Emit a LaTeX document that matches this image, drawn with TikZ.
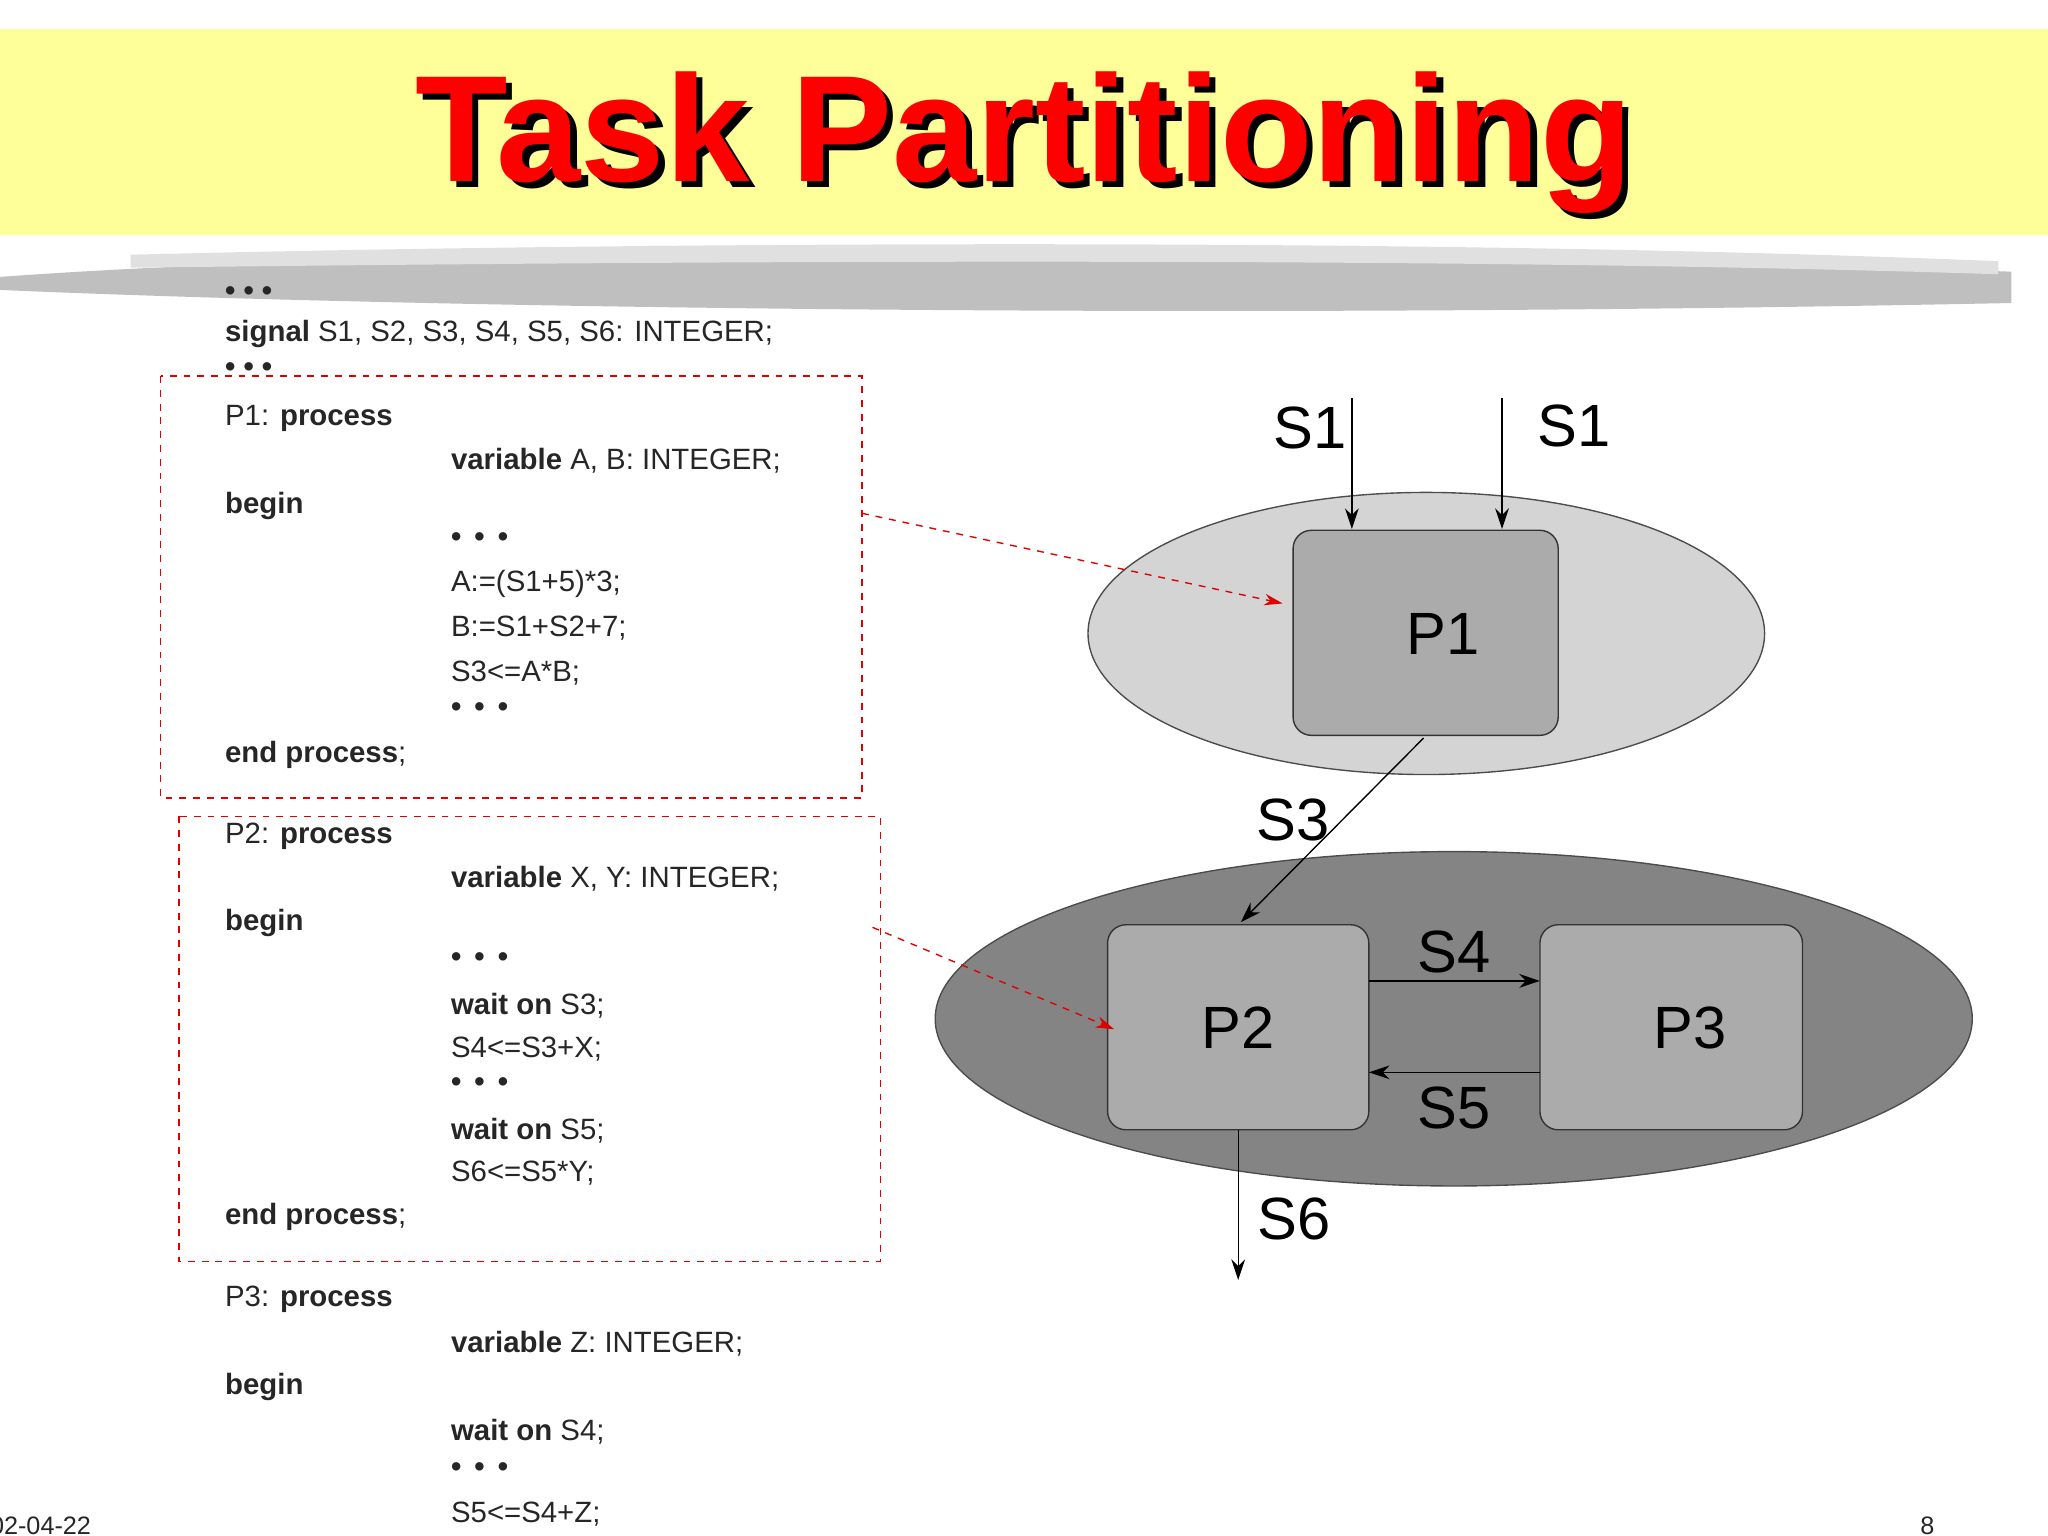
\documentclass[tikz,border=0pt]{standalone}
\usepackage{fontspec}
\setmainfont{Liberation Sans}
\usetikzlibrary{arrows.meta}
\definecolor{banner}{HTML}{FFFF99}
\definecolor{ell1}{HTML}{D4D4D4}
\definecolor{ell2}{HTML}{848484}
\definecolor{pbox}{HTML}{ABABAB}
\definecolor{dred}{HTML}{E00000}
\begin{document}
\begin{tikzpicture}[x=0.02cm,y=-0.02cm,
  code/.style={anchor=west,inner sep=0pt,font=\fontsize{12.8}{14}\selectfont,text=black!85},
  proc/.style={draw=black!80,rounded corners=8pt,fill=pbox,line width=0.6pt},
  big/.style={font=\fontsize{26}{30}\selectfont},
  sig/.style={-{Stealth[length=9pt,width=6pt]},line width=0.6pt},
  red/.style={draw=dred,dashed,line width=0.6pt},
  redarr/.style={red,-{Stealth[length=8pt,width=5pt]},dred}]
\useasboundingbox (0,0) rectangle (1568,1176);
\fill[banner] (0,22) rectangle (1568,180);
\node[font=\fontsize{66}{70}\selectfont\bfseries,text=black] at (789,114) {Task Partitioning};
\node (title) [font=\fontsize{66}{70}\selectfont\bfseries,text=red] at (784,109) {Task Partitioning};
\fill[black!25] (0,212) .. controls (300,190) and (900,185) .. (1540,208) -- (1540,232) .. controls (900,245) and (300,235) .. (0,222) -- cycle;
\fill[black!12] (100,195) .. controls (500,185) and (1100,182) .. (1530,200) -- (1530,210) .. controls (1100,196) and (500,200) .. (100,205) -- cycle;
% code
\node[code] at (172,225) {\textbf{• • •}};
\node[code] (sig) at (172,256) {\textbf{signal} S1, S2, S3, S4, S5, S6: INTEGER;};
\node[code] at (172,283) {\textbf{• • •}};
\node[code] at (172,320) {P1: \textbf{process}};
\node[code] at (345,353) {\textbf{variable} A, B: INTEGER;};
\node[code] at (172,387) {\textbf{begin}};
\node[code] at (345,413) {\textbf{•\, •\, •}};
\node[code] at (345,447) {A:=(S1+5)*3;};
\node[code] at (345,481) {B:=S1+S2+7;};
\node[code] at (345,515) {S3<=A*B;};
\node[code] at (345,543) {\textbf{•\, •\, •}};
\node[code] at (172,578) {\textbf{end process};};
\draw[red] (123,288) rectangle (660,611);
\node[code] at (172,640) {P2: \textbf{process}};
\node[code] at (345,673) {\textbf{variable} X, Y: INTEGER;};
\node[code] at (172,707) {\textbf{begin}};
\node[code] at (345,735) {\textbf{•\, •\, •}};
\node[code] at (345,770) {\textbf{wait on} S3;};
\node[code] at (345,803) {S4<=S3+X;};
\node[code] at (345,830) {\textbf{•\, •\, •}};
\node[code] at (345,866) {\textbf{wait on} S5;};
\node[code] at (345,898) {S6<=S5*Y;};
\node[code] at (172,932) {\textbf{end process};};
\draw[red] (137,625) rectangle (674,966);
\node[code] at (172,995) {P3: \textbf{process}};
\node[code] at (345,1029) {\textbf{variable} Z: INTEGER;};
\node[code] at (172,1062) {\textbf{begin}};
\node[code] at (345,1096) {\textbf{wait on} S4;};
\node[code] at (345,1125) {\textbf{•\, •\, •}};
\node[code] at (345,1159) {S5<=S4+Z;};
\node[code,font=\fontsize{11}{13}\selectfont] at (-8,1168) {02-04-22};
\node[code,font=\fontsize{11}{13}\selectfont] at (1470,1168) {8};
% diagram
\draw[fill=ell1,draw=black!70,line width=0.6pt] (1092,485) ellipse [x radius=259,y radius=108];
\draw[fill=ell2,draw=black!70,line width=0.6pt] (1113,780) ellipse [x radius=397,y radius=128];
\draw[proc] (990,406) rectangle (1193,563);
\node[big] (p1) at (1105,485) {P1};
\draw[proc] (848,708) rectangle (1048,865);
\node[big] (p2) at (948,787) {P2};
\draw[proc] (1179,708) rectangle (1380,865);
\node[big] (p3) at (1294,787) {P3};
\coordinate (s1a) at (1035,305); \coordinate (s1ae) at (1035,405);
\coordinate (s1b) at (1150,305); \coordinate (s1be) at (1150,405);
\draw[sig] (s1a) -- (s1ae);
\draw[sig] (s1b) -- (s1be);
\node[big] at (1003,328) {S1};
\node[big] at (1205,326) {S1};
\coordinate (p1b) at (1090,565); \coordinate (p2t) at (950,706);
\draw[sig] (p1b) -- (p2t);
\node[big] at (990,628) {S3};
\coordinate (a4) at (1048,751); \coordinate (b4) at (1179,751);
\draw[sig] (a4) -- (b4);
\node[big] at (1113,729) {S4};
\coordinate (a5) at (1179,821); \coordinate (b5) at (1048,821);
\draw[sig] (a5) -- (b5);
\node[big] at (1113,848) {S5};
\coordinate (a6) at (948,865); \coordinate (b6) at (948,980);
\draw[sig] (a6) -- (b6);
\node[big] at (991,933) {S6};
\coordinate (r1) at (660,393); \coordinate (r1e) at (982,462);
\coordinate (r2) at (668,710); \coordinate (r2e) at (853,788);
\draw[redarr] (r1) -- (r1e);
\draw[redarr] (r2) -- (r2e);
\end{tikzpicture}
\end{document}
